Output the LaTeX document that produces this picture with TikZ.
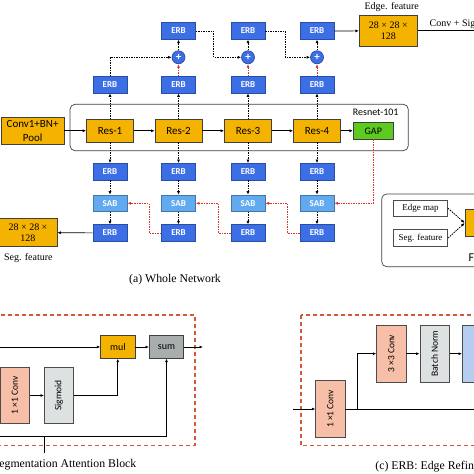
\documentclass[tikz,border=0pt]{standalone}
\usepackage{fontspec}
\setmainfont{Liberation Serif}
\setsansfont{Carlito}
\usetikzlibrary{arrows.meta}
\definecolor{erbblue}{HTML}{3C6FE6}
\definecolor{sabblue}{HTML}{62AAEF}
\definecolor{gold}{HTML}{F5B301}
\definecolor{gapgreen}{HTML}{5DCB1E}
\definecolor{salmon}{HTML}{F7BFA8}
\definecolor{sumgray}{HTML}{A8AEAE}
\definecolor{lgray}{HTML}{DDE1E1}
\definecolor{lblue}{HTML}{B5CDF1}
\definecolor{framered}{HTML}{D45A35}
\definecolor{arrred}{HTML}{D9342B}

\begin{document}
\begin{tikzpicture}
  [x=1pt,y=-1pt,>={Latex[length=3.5pt,width=3pt]},line width=0.7pt,
   every node/.style={inner sep=0pt},
   erb/.style={rectangle,draw=erbblue!70!black,fill=erbblue,text=white,font=\sffamily\bfseries\fontsize{9}{9}\selectfont,minimum width=34pt,minimum height=16.5pt},
   sab/.style={erb,fill=sabblue,draw=sabblue!70!black},
   res/.style={rectangle,draw=black!75,fill=gold,font=\sffamily\fontsize{11}{14}\selectfont,minimum width=47pt,minimum height=22.5pt},
   feat/.style={rectangle,draw=black!75,fill=gold,align=center,font=\fontsize{10}{11.5}\selectfont,minimum width=58pt,minimum height=31pt},
   addnode/.style={circle,fill=erbblue,draw=erbblue!70!black,text=white,minimum size=13pt,font=\sffamily\bfseries\fontsize{11}{11}\selectfont},
   blk/.style={rectangle,draw=black!70,minimum width=29.3pt,minimum height=56.5pt,font=\sffamily\fontsize{9.5}{9.5}\selectfont},
   dotl/.style={dash pattern=on 1.5pt off 1pt,line width=0.8pt},
   redl/.style={dotl,draw=arrred},
   blockframe/.style={draw=framered,line width=1.1pt,dash pattern=on 4pt off 3pt},
   captext/.style={font=\fontsize{11.8}{12}\selectfont}]
  \useasboundingbox (0,0) rectangle (474,474);
  \clip (0,0) rectangle (474,474);

  \node[draw=black!75,rounded corners=5pt,minimum width=338.3pt,minimum height=46.4pt] (resnet) at (239.15,127.5) {};
  \node[font=\sffamily\fontsize{10}{10}\selectfont] (resname) at (375.7,112.7) {Resnet-101};
  \node[res,align=center,minimum width=63pt,minimum height=27pt] (conv) at (32.6,130.8) {Conv1+BN+\\Pool};
  \node[res,fill=gapgreen,minimum width=40pt,minimum height=16.3pt,font=\sffamily\fontsize{10}{10}\selectfont] (gap) at (373.3,130.8) {GAP};

  \foreach \i/\x in {1/110,2/178.5,3/248,4/317} {
    \node[res] (res\i) at (\x,130.8) {Res-\i};
    \node[erb] (erbm\i) at (\x,84.7) {ERB};
    \node[erb] (erbd\i) at (\x,171.7) {ERB};
    \node[sab] (sab\i) at (\x,203.3) {SAB};
    \node[erb] (erbs\i) at (\x,233) {ERB};
    \draw[dotl,->] (res\i) -- (erbm\i);
    \draw[dotl,->] (res\i) -- (erbd\i);
    \draw[dotl,->] (erbd\i) -- (sab\i);
    \draw[dotl,->] (sab\i) -- (erbs\i);
  }
  \foreach \i/\x in {2/178.5,3/248,4/317} {
    \node[erb] (erbt\i) at (\x,31) {ERB};
    \node[addnode] (add\i) at (\x,57.3) {+};
    \draw[redl,->] (erbm\i) -- (add\i);
    \draw[dotl,->] (add\i) -- (erbt\i);
  }
  \foreach \from/\to in {conv/res1,res1/res2,res2/res3,res3/res4,res4/gap}
    \draw[->] (\from) -- (\to);

  \draw[dotl,->] (erbm1) |- (add2);
  \draw[dotl,->] (erbt2.east) -- ++(18,0) |- (add3);
  \draw[dotl,->] (erbt3.east) -- ++(20,0) |- (add4);
  \foreach \from/\to in {2/1,3/2,4/3}
    \draw[redl,->] (erbs\from.west) -- ++(-12,0) |- (sab\to.east);
  \draw[redl,->] (gap) |- (sab4);

  \node[feat] (edgefeat) at (388.3,30.8) {28 × 28 ×\\128};
  \node[font=\fontsize{10}{10}\selectfont] (edgelab) at (391.7,7.3) {Edge. feature};
  \draw[->] (erbt4) -- (edgefeat);
  \coordinate (csend) at (508,30.8);
  \draw[->] (edgefeat.east) -- node[above=1.5pt,font=\fontsize{10}{10}\selectfont] {Conv + Sigmoid} (csend);

  \node[feat,minimum height=28pt] (segfeat) at (28,232.5) {28 × 28 ×\\128};
  \node[font=\fontsize{10}{10}\selectfont] (seglab) at (28.3,258.3) {Seg. feature};
  \draw[->] (erbs1) -- (segfeat);
  \node[captext] (capa) at (175,279.3) {(a) Whole Network};

  \node[draw=black!75,rounded corners=5pt,minimum width=108.3pt,minimum height=72.7pt] (fusebox) at (435.85,230.35) {};
  \node[draw=black!70,fill=white,minimum width=54.4pt,minimum height=16.7pt,font=\fontsize{9}{9}\selectfont] (edgemap) at (420.5,208.3) {Edge map};
  \node[draw=black!70,fill=white,minimum width=54.4pt,minimum height=17.3pt,font=\fontsize{9}{9}\selectfont] (segmap) at (420.5,238) {Seg. feature};
  \node[draw=black!75,fill=gold,minimum width=20pt,minimum height=27.4pt] (fuse) at (475,223) {};
  \draw[dotl,->] (edgemap.east) -- (fuse.west);
  \draw[dotl,->] (segmap.east) -- (fuse.west);
  \node[anchor=west,font=\sffamily\fontsize{12}{12}\selectfont] (fuselab) at (468.3,258) {F};

  \draw[blockframe] (-5,315) rectangle (195,445.7);
  \node[blk,fill=salmon] (sconv) at (14.7,395.5) {\rotatebox{90}{1 ×1 Conv}};
  \node[blk,fill=lgray] (sig) at (59,395.5) {\rotatebox{90}{Sigmoid}};
  \node[res,minimum width=34.3pt,minimum height=22.7pt,font=\sffamily\fontsize{10}{10}\selectfont] (mul) at (117.8,347) {mul};
  \node[res,fill=sumgray,minimum width=34.3pt,minimum height=22.7pt,font=\sffamily\fontsize{10}{10}\selectfont] (sum) at (166.5,347) {sum};
  \coordinate (sabin) at (0,347);
  \coordinate (sabout) at (203,347);
  \coordinate (skip) at (0,436.7);
  \coordinate (stub) at (44.3,453);
  \draw[->] (sabin) -- (mul);
  \draw[->] (mul) -- (sum);
  \draw[->] (sum) -- (sabout);
  \draw[->] (sconv) -- (sig);
  \draw[->] (sig) -| (mul);
  \draw[->] (skip) -| (sum);
  \draw (stub) -- (stub |- skip);
  \node[captext,anchor=east] (capb) at (136.7,465) {Segmentation Attention Block};

  \draw[blockframe] (301,315) rectangle (490,445.7);
  \node[blk,fill=salmon] (econv) at (330.3,409) {\rotatebox{90}{1 ×1 Conv}};
  \node[blk,fill=salmon] (econvb) at (391.3,353.7) {\rotatebox{90}{3 ×3 Conv}};
  \node[blk,fill=lgray] (bnorm) at (434.5,353.7) {\rotatebox{90}{Batch Norm}};
  \node[blk,fill=lblue] (enext) at (477,353.7) {};
  \coordinate (erbin) at (293.3,409);
  \coordinate (erbend) at (490,409);
  \coordinate (branch) at (357.7,409);
  \draw[->] (erbin) -- (econv);
  \draw (econv) -- (erbend);
  \draw[->] (branch) |- (econvb);
  \draw[->] (econvb) -- (bnorm);
  \draw[->] (bnorm) -- (enext);
  \node[captext,anchor=west] (capc) at (375,466.7) {(c) ERB: Edge Refinement Block};
\end{tikzpicture}
\end{document}
